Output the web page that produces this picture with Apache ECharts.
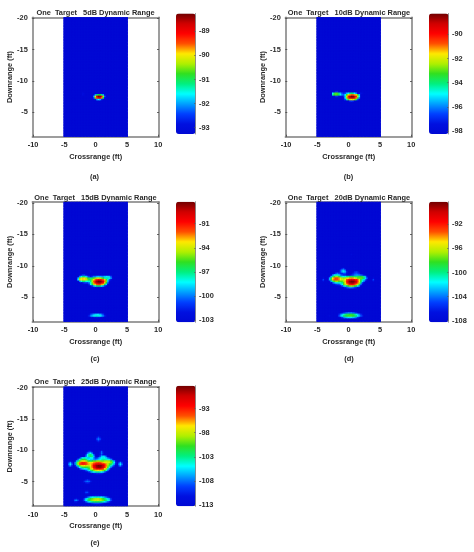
<!DOCTYPE html>
<html><head><meta charset="utf-8">
<style>html,body{margin:0;padding:0;background:#fff}#c{width:474px;height:552px;filter:blur(.4px)}</style>
<script src="https://cdn.jsdelivr.net/npm/echarts@6/dist/echarts.min.js"></script>
</head><body><div id="c"></div>
<script>
const panelTitles=['One  Target   5dB Dynamic Range','One  Target   10dB Dynamic Range','One  Target   15dB Dynamic Range','One  Target   20dB Dynamic Range','One  Target   25dB Dynamic Range'];
const panelLetters=['(a)','(b)','(c)','(d)','(e)'];
const dynamicRanges=[5,10,15,20,25];
const peakDb=-88.26;
const colorbarTicks=[[-89,-90,-91,-92,-93],[-90,-92,-94,-96,-98],[-91,-94,-97,-100,-103],[-92,-96,-100,-104,-108],[-93,-98,-103,-108,-113]];
const xTickLabels=['-10','-5','0','5','10'];
const yTickLabels=['-20','-15','-10','-5'];
const xName='Crossrange (ft)';
const yName='Downrange (ft)';
const backgroundDb=-120;
const jetColors=['#0008d4','#0010e0','#0040ff','#00a0ff','#00ffff','#00f080','#30e020','#b0f000','#ffe800','#ff5000','#ff0000','#d00000','#700000'];
const imageRuns=[
[-12.25,.25,[-113,-112,-113]],
[-12,.25,[-111,-109,-111]],
[-11.75,0,[-113,-109,-107.5,-109,-112]],
[-11.5,.25,[-111,-109,-111]],
[-11.25,.5,[-112]],
[-10,-1,[-114,-114]],
[-9.75,-1.25,[-112,-110,-110,-112]],
[-9.75,.75,[-112,-108.5,-112]],
[-9.5,-1.5,[-112,-108,-106,-105,-108,-112]],
[-9.5,.75,[-111,-108,-111]],
[-9.25,-1.5,[-110,-105,-103,-102.5,-104,-108,-113]],
[-9.25,.75,[-112,-109,-112]],
[-9,-1.75,[-112,-108,-105,-103,-102,-103,-106,-111]],
[-9,.5,[-112,-109,-106,-105.5,-106,-109,-113]],
[-8.75,-2.5,[-111,-107,-105,-104,-105,-106,-106,-105,-105,-107,-110,-110,-108,-106,-105,-104.5,-105,-106,-108,-110,-112]],
[-8.5,-3,[-112,-108,-104,-102,-101,-101,-102,-104,-105,-106,-106,-107,-108,-107,-106,-105,-104,-103.5,-103.5,-104,-104.5,-105.5,-107,-110]],
[-8.25,-3.25,[-112,-107,-103,-100,-98,-97,-97,-98,-100,-101,-102,-101,-100,-100,-99,-99,-99,-99.5,-99.5,-99,-98.5,-98.5,-99,-100.5,-103,-107,-111]],
[-8,-4.25,[-110,-107,-110]],
[-8,-3.5,[-113,-108,-103,-99,-95,-93.6,-93,-93.2,-94,-95.5,-96.5,-97,-96.5,-95.5,-94.8,-94.2,-93.9,-94.2,-95,-96,-97.5,-97.5,-97.5,-98,-99.5,-102,-105,-110]],
[-8,3.75,[-110,-107,-110]],
[-7.75,-4.25,[-108,-105,-108]],
[-7.75,-3.5,[-113,-108,-103,-98.5,-94.5,-93.3,-93,-93.2,-93.8,-95,-96,-96.3,-95,-93.2,-92,-91.2,-90.8,-90.8,-91.2,-92,-93,-95.5,-98,-100.5,-102,-104,-107,-111]],
[-7.75,3.75,[-108,-105,-108]],
[-7.5,-4.25,[-110,-107,-110]],
[-7.5,-3.25,[-112,-107,-103,-100,-98,-97,-97,-98,-98,-98,-97,-94.5,-92,-90,-88.9,-88.3,-88.4,-89,-90.3,-92.3,-95,-99,-102,-104,-107,-110]],
[-7.5,3.75,[-110,-107,-110]],
[-7.25,-3,[-112,-108,-105,-103,-102,-101,-101,-101,-100,-98,-95,-92.5,-90.5,-89.4,-88.9,-89,-89.6,-91,-93,-96,-100,-105,-108,-111]],
[-7,-2.5,[-110,-107,-106,-105,-105,-103.5,-101.5,-98,-96.5,-94.5,-93,-92,-91.6,-91.8,-92.6,-94,-96.5,-99,-104,-108]],
[-6.75,-1.75,[-111,-109,-107,-105,-103,-101,-99.5,-98,-97,-96.7,-97,-98,-99.5,-101,-104,-108]],
[-6.5,-1.25,[-112,-110,-108,-106,-105,-104,-103.5,-103.5,-104,-105,-106,-108,-111]],
[-6.25,-.5,[-114,-112,-111,-110.5,-110.5,-110.5,-110.5,-112]],
[-5.25,-1.75,[-113,-111,-110,-111,-113]],
[-5,-2,[-113,-110,-108.5,-108,-108.5,-110.5,-113]],
[-4.75,-1.75,[-113,-111,-110.5,-111,-113]],
[-3.5,-1.5,[-112,-112]],
[-3.25,-1.75,[-112,-109,-109,-112]],
[-3,-1.5,[-112,-112]],
[-2.75,-1,[-113,-112.5,-112,-111.5,-111,-111,-111,-111.5,-112,-112.5,-113]],
[-2.5,-1.75,[-113,-111,-109,-107,-106,-105,-104.5,-104,-104,-104,-104.5,-105,-106,-107,-108.5,-110,-112]],
[-2.25,-3.25,[-112,-111]],
[-2.25,-2,[-113,-109,-106,-104,-102.5,-101,-100,-99.3,-98.8,-98.5,-98.6,-99,-99.8,-101,-102.5,-104,-105.5,-107,-110,-113]],
[-2,-3.5,[-112,-108,-107.5,-110]],
[-2,-2,[-112,-108,-105,-103,-101.5,-100,-99,-98.5,-98,-97.8,-98,-98.3,-99,-100,-101.5,-103,-104.5,-106,-109,-112]],
[-1.75,-3.25,[-111,-111]],
[-1.75,-1.75,[-112,-109,-107,-105.5,-104,-103,-102.5,-102,-102,-102,-102.5,-103,-104,-105.5,-107,-108.5,-110,-112]],
[-1.5,-1,[-112,-111,-110,-109.5,-109,-109,-109,-109.5,-110,-111,-112]]
];

const STEP=.25;
const xCats=[];for(let i=-40;i<=40;i++)xCats.push(String(i*STEP));
const yCats=[];for(let i=-80;i<=-5;i++)yCats.push(String(i*STEP));
const field=new Map();
imageRuns.forEach(([y,x0,vals])=>vals.forEach((v,k)=>field.set((x0+k*STEP)+'|'+y,v)));

function panelData(floor){
  const out=[];
  xCats.forEach((xs,ix)=>{
    const x=+xs; if(x<-5||x>5)return;
    yCats.forEach((ys,iy)=>{
      const k=field.has(x+'|'+(+ys))?field.get(x+'|'+(+ys)):backgroundDb;
      out.push([ix,iy,Math.max(k,floor)]);
    });
  });
  return out;
}

const FONT='"Liberation Sans"';
const COL='#2a2a2a';
const frames=[[32.3,17.3,119.4],[285.3,17.3,119.4],[32.3,202,119.7],[285.3,202,119.7],[32.3,386.7,119.3]];
const bars=[[176,13.5,120.5],[429,13.5,120.5],[176,201.7,120.6],[429,201.7,120.6],[176,385.7,120.6]];
const titlePos=[[95.5,13],[349,13],[95.5,197.5],[349,197.5],[95.5,382]];
const letterPos=[[94.5,177],[348.5,177],[95,358.5],[349,358.5],[95,542.5]];
const W=126.7;
const lineStyle={color:'#7d7d7d',width:1.5};
const tickOn=l=>(i,v)=>l.includes(String(v));
const label={fontFamily:FONT,fontWeight:'bold',fontSize:7.4,color:COL};

const option={animation:false,backgroundColor:'#fff',grid:[],xAxis:[],yAxis:[],series:[],visualMap:[],title:[]};
const underlays=[];
frames.forEach((f,i)=>{
  const floor=peakDb-dynamicRanges[i];
  const g=option.grid.length;
  option.grid.push({left:f[0],top:f[1],width:W,height:f[2]});
  const xa=option.xAxis.length;
  const common={type:'category',gridIndex:g,boundaryGap:true,axisLine:{show:true,onZero:false,lineStyle},splitLine:{show:false}};
  option.xAxis.push({...common,data:xCats,position:'bottom',name:xName,nameLocation:'middle',nameGap:16.5,
    nameTextStyle:label,axisTick:{show:true,inside:true,length:2,alignWithLabel:true,interval:tickOn(xTickLabels),lineStyle:{color:'#444',width:.8}},
    axisLabel:{...label,interval:tickOn(xTickLabels),margin:5,hideOverlap:false}});
  option.xAxis.push({...common,data:xCats,position:'top',axisTick:{show:false},axisLabel:{show:false}});
  const ya=option.yAxis.length;
  option.yAxis.push({...common,data:yCats,inverse:true,position:'left',name:yName,nameLocation:'middle',nameGap:19,
    nameTextStyle:label,axisTick:{show:true,inside:true,length:2,alignWithLabel:true,interval:tickOn(yTickLabels),lineStyle:{color:'#444',width:.8}},
    axisLabel:{...label,interval:tickOn(yTickLabels),margin:4.5,hideOverlap:false}});
  option.yAxis.push({...common,data:yCats,inverse:true,position:'right',
    axisTick:{show:true,inside:true,length:2,alignWithLabel:true,interval:tickOn(yTickLabels),lineStyle:{color:'#444',width:.8}},axisLabel:{show:false}});
  option.series.push({type:'heatmap',z:3,xAxisIndex:xa,yAxisIndex:ya,data:panelData(floor),progressive:0,silent:true,emphasis:{disabled:true},animation:false});
  underlays.push({type:'line',z:1,xAxisIndex:xa,yAxisIndex:ya,data:[],silent:true,
    markArea:{silent:true,itemStyle:{color:jetColors[0]},data:[[{xAxis:'-5',yAxis:'-20'},{xAxis:'5',yAxis:'-1.25'}]]}});
  option.visualMap.push({type:'continuous',seriesIndex:i,dimension:2,min:floor,max:peakDb,calculable:false,show:true,text:null,
    showLabel:false,left:bars[i][0],top:bars[i][1],itemWidth:19.5,itemHeight:bars[i][2],padding:0,hoverLink:false,inRange:{color:jetColors},borderWidth:0,z:4,textStyle:{fontSize:1,color:'rgba(0,0,0,0)'}});
  option.title.push({text:panelTitles[i],left:titlePos[i][0],top:titlePos[i][1],textAlign:'center',textVerticalAlign:'middle',padding:0,textStyle:label});
  option.title.push({text:panelLetters[i],left:letterPos[i][0],top:letterPos[i][1],textAlign:'center',textVerticalAlign:'middle',padding:0,textStyle:label});
});
option.series.push(...underlays);
bars.forEach((b,i)=>{
  const floor=peakDb-dynamicRanges[i];
  const g=option.grid.length;
  option.grid.push({left:b[0],top:b[1],width:19.5,height:b[2],show:false});
  option.xAxis.push({type:'value',gridIndex:g,show:false,min:0,max:1});
  option.yAxis.push({type:'value',gridIndex:g,min:floor,max:peakDb,position:'right',z:6,splitLine:{show:false},
    axisLine:{show:true,onZero:false,lineStyle:{color:'#555',width:.6}},
    axisTick:{show:true,inside:true,length:1.5,customValues:colorbarTicks[i],lineStyle:{color:'#555',width:.6}},
    axisLabel:{...label,margin:3.5,customValues:colorbarTicks[i],align:'left',showMinLabel:true,showMaxLabel:true}});
});
const chart=echarts.init(document.getElementById('c'));
chart.setOption(option);
</script></body></html>
